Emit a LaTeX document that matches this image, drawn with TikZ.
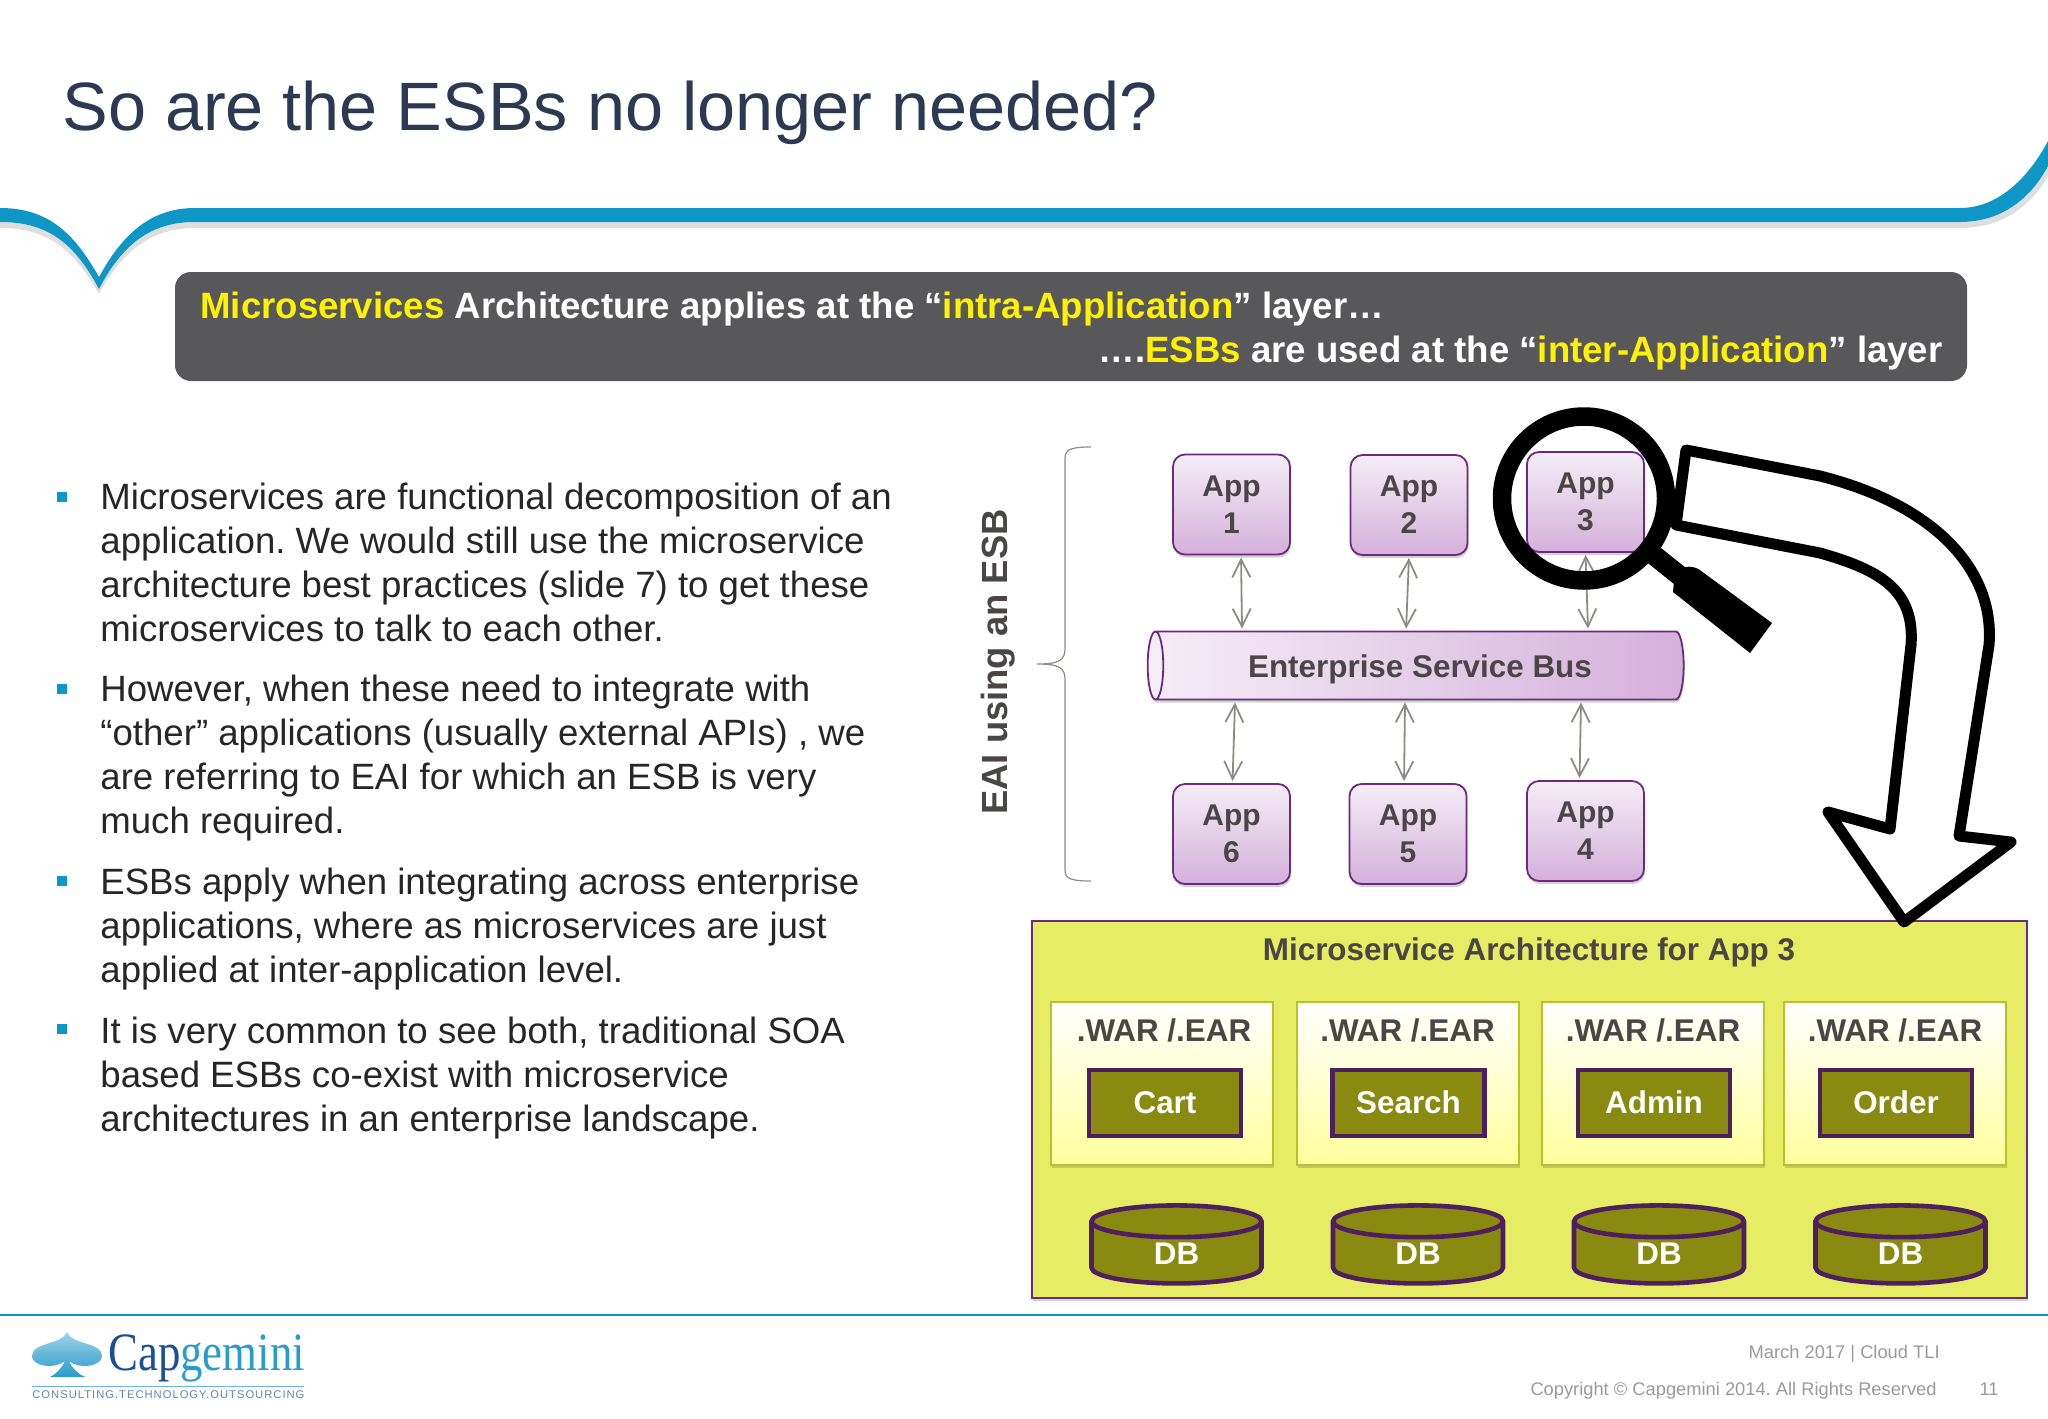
\documentclass[tikz,border=0pt]{standalone}
\usepackage{fontspec}
\setmainfont{Liberation Sans}
\newfontfamily\logoserif{Liberation Serif}
\usetikzlibrary{positioning,arrows.meta,shapes.geometric,shadows}
\definecolor{navy}{HTML}{2B3A52}
\definecolor{swoosh}{HTML}{0E97C6}
\definecolor{panel}{HTML}{58575A}
\definecolor{ink}{HTML}{4B4646}
\definecolor{plum}{HTML}{6C2A7C}
\definecolor{mauve}{HTML}{D5B0DB}
\definecolor{lilac}{HTML}{F5EDF7}
\definecolor{lime}{HTML}{E6EC64}
\definecolor{limeline}{HTML}{B6C32C}
\definecolor{pale}{HTML}{FFFF9C}
\definecolor{olive}{HTML}{8A8A10}
\definecolor{grape}{HTML}{4E1F5E}
\definecolor{conn}{HTML}{8D8C84}
\definecolor{foot}{HTML}{9A9A9A}
\definecolor{logodark}{HTML}{1C4E96}
\definecolor{logolight}{HTML}{2A9CCB}
\frenchspacing

\begin{document}
\begin{tikzpicture}[
  x=0.5pt, y=-0.5pt,
  lead/.style={font=\fontsize{18.3}{22}\selectfont\bfseries, text=white, inner sep=0pt, anchor=base west},
  bullettext/.style={font=\fontsize{18.3}{22}\selectfont, text=black!85, align=left,
                     inner sep=0pt, anchor=base west},
  bulletmark/.style={fill=swoosh, minimum size=5pt, inner sep=0pt},
  app/.style={draw=plum, line width=0.9pt, rounded corners=6pt,
              top color=lilac, bottom color=mauve, align=center, text=ink,
              minimum width=58.5pt, minimum height=50pt, inner sep=0pt,
              font=\fontsize{15}{18.5}\selectfont\bfseries,
              drop shadow={shadow xshift=0.5pt, shadow yshift=-1.5pt, opacity=0.35}},
  bus/.style={<->, line width=0.9pt, draw=conn, shorten <=1pt, shorten >=1pt,
              >={Straight Barb[length=9pt,width=9pt]}},
  warbox/.style={draw=limeline, line width=0.9pt, top color=white, bottom color=pale,
                 minimum width=111pt, minimum height=81.5pt, inner sep=0pt,
                 drop shadow={shadow xshift=0.5pt, shadow yshift=-1.5pt, opacity=0.35}},
  warlab/.style={font=\fontsize{15.7}{18}\selectfont\bfseries, text=ink, inner sep=0pt},
  service/.style={draw=grape, line width=2.2pt, fill=olive, text=white,
                  minimum width=76pt, minimum height=33pt, inner sep=0pt,
                  text height=11pt, text depth=1pt,
                  font=\fontsize{15.7}{18}\selectfont\bfseries},
  dbase/.style={cylinder, shape border rotate=90, shape aspect=0.7, draw=grape, line width=2.3pt,
                fill=olive, text=white, minimum width=85pt, minimum height=39pt, inner sep=0pt,
                font=\fontsize{15.7}{18}\selectfont\bfseries},
  footnote/.style={font=\fontsize{9.15}{11}\selectfont, text=foot, inner sep=0pt, anchor=base east},
]
\useasboundingbox (0,0) rectangle (2048,1418);

% header
\node[font=\fontsize{34.2}{40}\selectfont, text=navy, inner sep=0pt, anchor=base west] (title) at (62,130)
  {So are the ESBs no longer needed?};
\fill[black, opacity=0.13] (0,222) .. controls (50,222) and (75,245) .. (99,289)
  .. controls (122,245) and (150,222) .. (195,222) -- (1960,222)
  .. controls (2000,222) and (2030,200) .. (2048,166) -- (2048,176)
  .. controls (2030,208) and (2000,228) .. (1960,228) -- (195,228)
  .. controls (150,228) and (122,252) .. (99,294)
  .. controls (75,252) and (50,228) .. (0,228) -- cycle;
\fill[swoosh] (0,208) .. controls (50,208) and (75,235) .. (99,277)
  .. controls (122,235) and (150,208) .. (195,208) -- (1960,208)
  .. controls (2000,208) and (2030,175) .. (2048,141) -- (2048,166)
  .. controls (2030,200) and (2000,222) .. (1960,222) -- (195,222)
  .. controls (150,222) and (122,245) .. (99,289)
  .. controls (75,245) and (50,222) .. (0,222) -- cycle;

\node[fill=panel, rounded corners=8pt, minimum width=896pt, minimum height=54.5pt, inner sep=0pt] (panel)
  at (1071,326.5) {};
\node[lead] (leadone) at (200,318)
  {\textcolor{yellow}{Microservices} Architecture applies at the “\textcolor{yellow}{intra-Application}” layer…};
\node[lead, anchor=base east] (leadtwo) at (1943,362)
  {….\textcolor{yellow}{ESBs} are used at the “\textcolor{yellow}{inter-Application}” layer};

% text
\node[bulletmark] (mark1) at (62,497) {};
\node[bullettext] (para1) at (100,641.5)
  {Microservices are functional decomposition of an\\
   application. We would still use the microservice\\
   architecture best practices (slide 7) to get these\\
   microservices to talk to each other.};
\node[bulletmark] (mark2) at (62,689) {};
\node[bullettext] (para2) at (100,833.5)
  {However, when these need to integrate with\\
   “other” applications (usually external APIs) , we\\
   are referring to EAI for which an ESB is very\\
   much required.};
\node[bulletmark] (mark3) at (62,881) {};
\node[bullettext] (para3) at (100,982)
  {ESBs apply when integrating across enterprise\\
   applications, where as microservices are just\\
   applied at inter-application level.};
\node[bulletmark] (mark4) at (62,1029) {};
\node[bullettext] (para4) at (100,1131)
  {It is very common to see both, traditional SOA\\
   based ESBs co-exist with microservice\\
   architectures in an enterprise landscape.};

% ESB part
\node[rotate=90, font=\fontsize{18.2}{20}\selectfont\bfseries, text=ink, inner sep=0pt] (eai) at (998,662)
  {EAI using an ESB};
\coordinate (bracetop) at (1091,447);
\coordinate (bracebot) at (1091,881);
\coordinate (bracetip) at (1037,664);
\draw[conn, line width=0.6pt] (bracetop) .. controls (1072,447) and (1065,449) .. (1065,458)
  -- (1065,648) .. controls (1065,660) and (1060,664) .. (bracetip)
  .. controls (1060,664) and (1065,668) .. (1065,680) -- (1065,870)
  .. controls (1065,879) and (1072,881) .. (bracebot);

\node[app] (app1) at (1231.5,504.5) {App\\1};
\node[app] (app2) at (1409,505) {App\\2};
\node[app] (app3) at (1585.5,502) {App\\3};
\node[app] (app6) at (1231.5,834) {App\\6};
\node[app] (app5) at (1408,834) {App\\5};
\node[app] (app4) at (1585.5,831) {App\\4};

\node[cylinder, shape border rotate=180, shape aspect=0.65, draw=plum, line width=0.9pt,
      left color=lilac, right color=mauve, minimum height=268pt, minimum width=34pt, inner sep=0pt,
      font=\fontsize{15.7}{18}\selectfont\bfseries, text=ink,
      drop shadow={shadow xshift=0.5pt, shadow yshift=-1.5pt, opacity=0.35}] (esb) at (1420,665.5)
  {\raisebox{0pt}[12pt][0pt]{Enterprise Service Bus}};

\draw[bus] ([xshift=4.75pt]app1.south) -- ([xshift=-89pt]esb.north);
\draw[bus] (app2.south) -- ([xshift=-7pt]esb.north);
\draw[bus] (app3.south) -- ([xshift=84pt]esb.north);
\draw[bus] ([xshift=-92.5pt]esb.south) -- ([xshift=0.5pt]app6.north);
\draw[bus] ([xshift=-7.5pt]esb.south) -- ([xshift=-2pt]app5.north);
\draw[bus] ([xshift=80.5pt]esb.south) -- ([xshift=-3pt]app4.north);

% microservices
\node[draw=plum, line width=0.9pt, fill=lime, minimum width=497.5pt, minimum height=188.5pt, inner sep=0pt,
      drop shadow={shadow xshift=0.5pt, shadow yshift=-1.5pt, opacity=0.35}] (arch) at (1529.5,1109.5) {};
\node[warlab] (archlab) at (1529,952) {Microservice Architecture for App 3};

\node[warbox] (war1) at (1162,1083.5) {};
\node[warbox] (war2) at (1408,1083.5) {};
\node[warbox] (war3) at (1653,1083.5) {};
\node[warbox] (war4) at (1895,1083.5) {};
\foreach \nm/\xx/\lab in {1/1165/Cart,2/1408.5/Search,3/1654/Admin,4/1896/Order}{
  \node[warlab] (warname\nm) at (\xx-1,1030) {.WAR /.EAR};
  \node[service] (svc\nm) at (\xx,1103) {\lab};
}
\foreach \nm/\xx in {1/1176.5,2/1418,3/1659,4/1900.5}{
  \node[dbase] (db\nm) at (\xx,1253.5) {DB};
}

% big arrow and lens
\draw[black, line width=5.5pt, fill=white, line join=round] (1686,450) -- (1820,476)
  .. controls (1935,505) and (1995,570) .. (1989,645)
  -- (1959,836) -- (2011,842) -- (1904,922) -- (1828,812) -- (1890,829) -- (1911,645)
  .. controls (1915,590) and (1880,570) .. (1820,553) -- (1676,525) -- cycle;
\draw[black, line width=9.25pt] (1584,498.5) circle (82);
\draw[black, line width=10pt] (1650,552) -- (1685,580);
\fill[black] (1750,653) -- (1673,592) [rounded corners=4pt] -- (1675,570) -- (1693,565) [sharp corners] -- (1772,623) -- cycle;

% footer
\draw[swoosh, line width=0.9pt] (0,1315) -- (2048,1315);
\node[footnote] (datestamp) at (1940,1358) {March 2017 | Cloud TLI};
\node[footnote] (rights) at (1937,1395) {Copyright © Capgemini 2014. All Rights Reserved};
\node[footnote] (pageno) at (1999,1395) {11};

% logo
\shade[top color=logolight!45, bottom color=logolight] (67,1332)
  .. controls (72,1345) and (102,1342) .. (102,1356)
  .. controls (102,1366) and (80,1370) .. (69,1361)
  .. controls (72,1368) and (78,1374) .. (85,1377) -- (50,1377)
  .. controls (56,1374) and (62,1368) .. (65,1361)
  .. controls (54,1370) and (32,1366) .. (32,1356)
  .. controls (32,1342) and (62,1345) .. (67,1332) -- cycle;
\node[font=\logoserif\fontsize{27}{30}\selectfont, xscale=0.83, inner sep=0pt, anchor=base west, text=logolight] (logoname) at (108,1370)
  {\textcolor{logodark}{Cap}gemini};
\draw[logolight!70, line width=0.5pt] (32,1386) -- (304,1386);
\node[font=\fontsize{5.6}{7}\selectfont\addfontfeature{LetterSpace=9}, text=logodark!70, inner sep=0pt, anchor=base west] (logotag) at (32,1398)
  {CONSULTING.TECHNOLOGY.OUTSOURCING};
\end{tikzpicture}
\end{document}
